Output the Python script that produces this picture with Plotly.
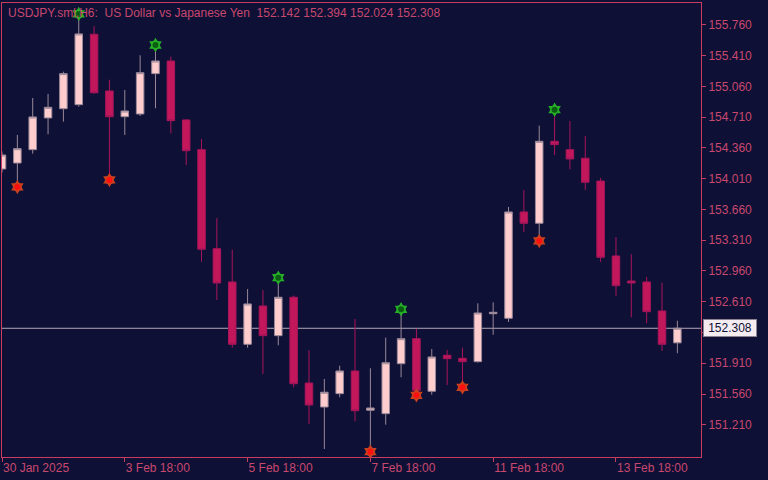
import plotly.graph_objects as go

# ---- data (USDJPY H6) ----
tick_positions = [0, 8, 16, 24, 32, 40]
tick_labels = ["30 Jan 2025", "3 Feb 18:00", "5 Feb 18:00", "7 Feb 18:00", "11 Feb 18:00", "13 Feb 18:00"]

opens = [154.121, 154.189, 154.341, 154.702, 154.807, 154.853, 155.654, 155.009, 154.716, 154.747,
         155.206, 155.350, 154.679, 154.341, 153.214, 152.835, 152.126, 152.562, 152.224, 152.661,
         151.685, 151.412, 151.564, 151.822, 151.375, 151.336, 151.905, 152.190, 151.591, 152.001,
         151.966, 151.928, 152.474, 152.422, 153.632, 153.503, 154.436, 154.341, 154.243, 153.984,
         153.131, 152.846, 152.835, 152.505, 152.142]
highs = [154.320, 154.508, 154.929, 154.975, 155.228, 155.823, 155.749, 155.137, 155.020, 155.415,
         155.475, 155.399, 154.690, 154.463, 153.563, 153.203, 152.755, 152.744, 152.812, 152.680,
         152.058, 151.731, 151.882, 152.414, 151.853, 152.201, 152.459, 152.303, 152.072, 152.061,
         152.087, 152.592, 152.604, 153.689, 153.882, 154.614, 154.736, 154.667, 154.497, 154.019,
         153.347, 153.150, 152.892, 152.827, 152.394]
lows = [154.080, 153.979, 154.295, 154.516, 154.660, 154.830, 154.975, 154.058, 154.508, 154.724,
        154.812, 154.527, 154.167, 153.066, 152.630, 152.087, 152.087, 151.788, 152.114, 151.636,
        151.219, 150.934, 151.523, 151.249, 150.968, 151.211, 151.750, 151.595, 151.552, 151.663,
        151.699, 151.917, 152.235, 152.380, 153.404, 153.364, 154.280, 154.118, 153.882, 153.063,
        152.679, 152.433, 152.365, 152.050, 152.024]
closes = [154.280, 154.352, 154.713, 154.823, 155.206, 155.658, 154.989, 154.716, 154.781, 155.217,
          155.350, 154.671, 154.329, 153.207, 152.824, 152.126, 152.585, 152.224, 152.661, 151.677,
          151.435, 151.580, 151.822, 151.370, 151.401, 151.916, 152.190, 151.600, 151.981, 151.962,
          151.928, 152.482, 152.490, 153.632, 153.503, 154.436, 154.398, 154.235, 153.970, 153.116,
          152.793, 152.824, 152.497, 152.126, 152.308]

up_signal_idx = [5, 10, 18, 26, 36]
up_signal_price = [155.885, 155.532, 152.884, 152.524, 154.796]
down_signal_idx = [1, 7, 24, 27, 30, 35]
down_signal_price = [153.916, 153.996, 150.903, 151.545, 151.636, 153.302]

y_ticks = [151.210, 151.560, 151.910, 152.260, 152.610, 152.960, 153.310,
           153.660, 154.010, 154.360, 154.710, 155.060, 155.410, 155.760]
last_price = 152.308
title_text = "USDJPY.sml,H6:  US Dollar vs Japanese Yen  152.142 152.394 152.024 152.308"

# ---- style ----
BG = "#0E1036"
AXIS = "#C83C62"
TXT = "#C8486E"
FONT = "Liberation Sans"

x = list(range(len(opens)))

fig = go.Figure()
fig.add_trace(go.Candlestick(
    x=x, open=opens, high=highs, low=lows, close=closes,
    increasing=dict(fillcolor="#FFCDCD", line=dict(color="#9A8898", width=1)),
    decreasing=dict(fillcolor="#C2185B", line=dict(color="#A8155A", width=1)),
    whiskerwidth=0, hoverinfo="skip", showlegend=False,
))


def add_gear(idx, price, ring, core):
    # serrated ring + solid ring + inner core -> gear-like dot
    for sym, size, col in (("hexagram", 11, ring), ("circle", 9, ring), ("circle", 6, core)):
        fig.add_trace(go.Scatter(x=idx, y=price, mode="markers",
                                 marker=dict(symbol=sym, size=size, color=col, line=dict(width=0)),
                                 hoverinfo="skip", showlegend=False))


add_gear(up_signal_idx, up_signal_price, "#27B027", "#0A5E12")
add_gear(down_signal_idx, down_signal_price, "#C8401E", "#FF1010")

# current price line (behind candles)
fig.add_shape(type="line", xref="paper", x0=0, x1=1, yref="y", y0=last_price, y1=last_price,
              line=dict(color="#B4A8B8", width=1), layer="below")

fig.add_annotation(text=title_text, xref="paper", yref="paper", x=0, y=1,
                   xanchor="left", yanchor="top", xshift=4, yshift=-1, showarrow=False,
                   font=dict(family=FONT, size=12, color=TXT))

fig.add_annotation(text=f"{last_price:.3f}", xref="paper", yref="y", x=1, y=last_price,
                   xanchor="left", yanchor="middle", xshift=2, showarrow=False,
                   bgcolor="#F4ECF0", bordercolor="#8C8494", borderwidth=1, borderpad=1,
                   width=50, align="center",
                   font=dict(family=FONT, size=12, color="#0E1036"))

fig.update_layout(
    width=768, height=480,
    margin=dict(l=2, r=67, t=3, b=23),
    paper_bgcolor=BG, plot_bgcolor=BG,
    font=dict(family=FONT, size=12, color=TXT),
    showlegend=False,
    xaxis=dict(range=[0, 45.54], rangeslider=dict(visible=False), showgrid=False, zeroline=False,
               tickmode="array", tickvals=tick_positions, ticktext=tick_labels,
               ticks="outside", ticklen=4, tickcolor=AXIS, ticklabelposition="outside right",
               showline=True, linecolor=AXIS, linewidth=1, mirror=True,
               tickfont=dict(family=FONT, size=12, color=TXT)),
    yaxis=dict(range=[150.843, 156.010], side="right", showgrid=False, zeroline=False,
               tickmode="array", tickvals=y_ticks, ticktext=[f"{v:.3f}" for v in y_ticks],
               ticks="outside", ticklen=4, tickcolor=AXIS,
               showline=True, linecolor=AXIS, linewidth=1, mirror=True,
               tickfont=dict(family=FONT, size=12, color=TXT)),
)

fig.write_html("out.html")
